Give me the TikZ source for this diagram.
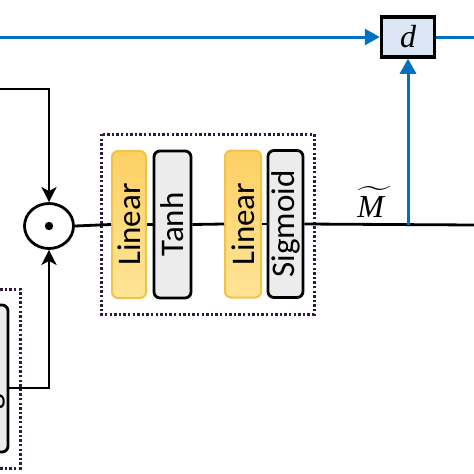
\documentclass[tikz,border=0pt]{standalone}
\usepackage{fontspec}
\setsansfont{Carlito}
\newfontfamily\timesf{Liberation Serif}
\usetikzlibrary{arrows.meta,shapes.geometric,calc}
\definecolor{myblue}{RGB}{0,112,192}
\definecolor{dboxfill}{RGB}{218,230,243}
\definecolor{linfillA}{RGB}{252,208,100}
\definecolor{linfillB}{RGB}{255,228,150}
\definecolor{linedge}{RGB}{242,195,70}
\definecolor{grayfill}{RGB}{236,236,236}
\definecolor{dotcol}{RGB}{50,25,65}
\tikzset{
  blk/.style={line width=2.8pt, black},
  blu/.style={line width=3pt, myblue},
  barr/.style={-{Stealth[length=15pt,width=15pt,inset=4pt]}},
  uarr/.style={-{Triangle[length=15pt,width=16pt]}},
  lbox/.style={rotate=90, rounded corners=6pt, minimum width=147pt, minimum height=34pt,
    inner sep=0pt, left color=linfillA, right color=linfillB, shading angle=0,
    draw=linedge, line width=2pt, font=\sffamily\fontsize{33}{36}\selectfont},
  gbox/.style={rotate=90, rounded corners=6pt, minimum width=147pt, minimum height=36pt,
    inner sep=0pt, fill=grayfill, draw=black, line width=2.8pt,
    font=\sffamily\fontsize{33}{36}\selectfont},
  dotbox/.style={draw=dotcol, line width=3pt, dash pattern=on 2.4pt off 2.2pt},
}
\begin{document}
\begin{tikzpicture}[x=1pt,y=-1pt]
\useasboundingbox (0,0) rectangle (474,474);
\clip (0,0) rectangle (474,474);
% dotted group boxes
\draw[dotbox] (101,134) rectangle (314,314);
\draw[dotbox] (-60,289) rectangle (20,468);
% nodes
\node[ellipse, draw=black, line width=2.8pt, minimum width=49pt, minimum height=45pt, inner sep=0pt] (circ) at (49,226) {};
\fill (circ.center) circle (4.2pt);
\node[lbox] (lin1) at (129,224.5) {Linear};
\node[gbox, minimum height=37pt] (tanh) at (172.5,224.5) {Tanh};
\node[lbox, minimum height=36pt] (lin2) at (243,224) {Linear};
\node[gbox, minimum height=35pt] (sig) at (285.5,224) {Sigmoid};
\node[gbox, minimum height=34pt] (sigL) at (-9,378.5) {Sigmoid};
\node[draw=black, line width=3.5pt, fill=dboxfill, minimum width=53pt, minimum height=40pt, inner sep=0pt] (d) at (408,37) {\scalebox{3.2}{\timesf\itshape d}};
\node (mt) at (374,202) {\scalebox{3.2}{$\widetilde{\mbox{\timesf\itshape M\kern2pt}}$}};
% coordinates
\coordinate (inTop) at (0,89);
\coordinate (outR) at (474,225);
\coordinate (inBlue) at (0,37);
\coordinate (outBlue) at (474,37);
\coordinate (tap) at (408,225);
% black connectors
\draw[blk] (circ.east) -- (lin1.north);
\draw[blk] (lin1.south) -- (tanh.north);
\draw[blk] (tanh.south) -- (lin2.north);
\draw[blk] (lin2.south) -- (sig.north);
\draw[blk] (sig.south) -- (outR);
\draw[blk, barr] (inTop) -| (circ.north);
\draw[blk, barr] ($(sigL.south)+(0,9.5)$) -| (circ.south);
% blue connectors
\draw[blu, uarr] (inBlue) -- (d.west);
\draw[blu] (d.east) -- (outBlue);
\draw[blu, uarr] (tap) -- (d.south);
\end{tikzpicture}
\end{document}
